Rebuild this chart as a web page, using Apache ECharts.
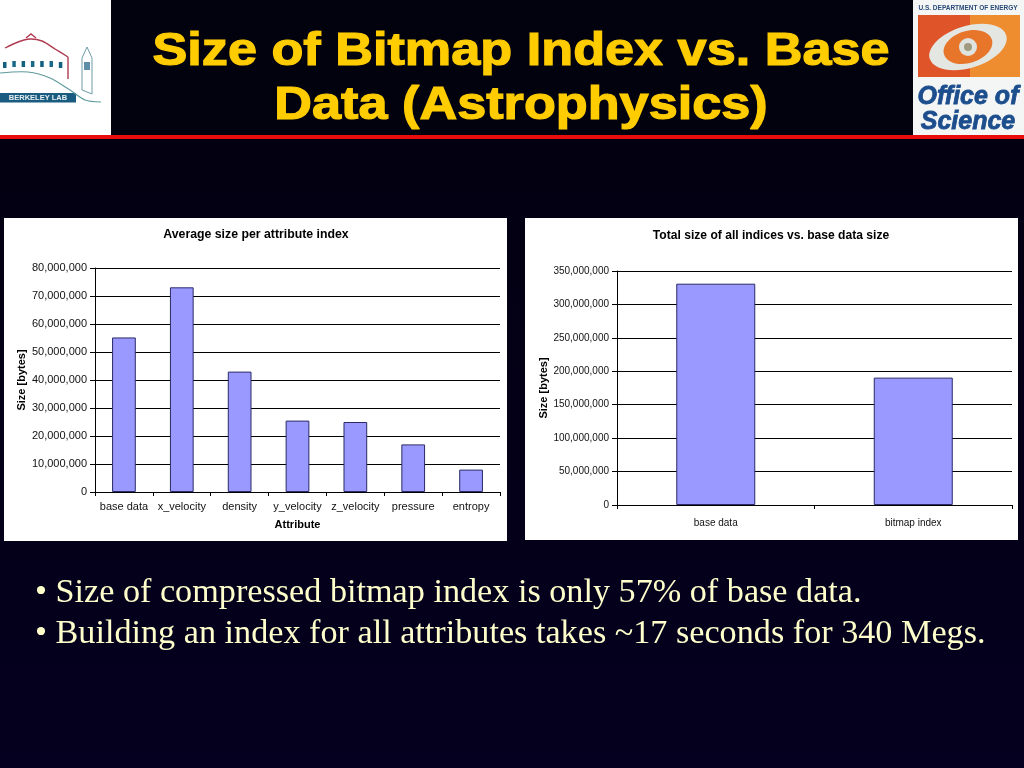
<!DOCTYPE html>
<html><head><meta charset="utf-8">
<style>html,body{margin:0;padding:0;background:#03001a}#c{width:1024px;height:768px}</style>
<script src="https://cdn.jsdelivr.net/npm/echarts@6/dist/echarts.min.js"></script>
</head><body><div id="c"></div>
<script>
const attributes = ['base data','x_velocity','density','y_velocity','z_velocity','pressure','entropy'];
const avgSizes = [55200000,73100000,43000000,25500000,25000000,17000000,8000000];
const totalCats = ['base data','bitmap index'];
const totalSizes = [331000000,190500000];
const titleLines = ['Size of Bitmap Index vs. Base','Data (Astrophysics)'];
const bullets = ['• Size of compressed bitmap index is only 57% of base data.','• Building an index for all attributes takes ~17 seconds for 340 Megs.'];

const sans='"Liberation Sans",Arial,sans-serif', serif='"Liberation Serif","Times New Roman",serif';
const fmt=v=>v.toLocaleString('en-US');
const chart=echarts.init(document.getElementById('c'),null,{renderer:'canvas',width:1024,height:768});
const txt=(x,y,s,size,fill,o={})=>({type:'text',z:o.z||5,x,y,rotation:o.rot||0,scaleX:o.sx||1,style:{text:s,fill,font:`${o.w||'normal'} ${size}px ${o.f||sans}`,align:o.a||'left',verticalAlign:'middle',stroke:o.st||null,lineWidth:o.lw||0}});
const rect=(x,y,w,h,fill,z=1)=>({type:'rect',z,silent:true,shape:{x,y,width:w,height:h},style:{fill}});
const line=(pts,stroke,lw,smooth)=>({type:'polyline',z:4,shape:{points:pts,smooth:smooth||0},style:{stroke,lineWidth:lw,fill:null}});
const windows=[0,1,2,3,4,5,6].map(i=>({type:'rect',z:4,shape:{x:3+i*9.3,y:61+(i==0||i==6?1:0),width:3.5,height:6},style:{fill:i%2?'#1c6a86':'#15607c'}}));

const graphic=[
 rect(0,0,111,136,'#ffffff'),
 rect(111,0,802,135,'#02020e'),
 rect(913,0,111,136,'#f4f6f6'),
 rect(0,135,1024,4,'#e80c0c',2),
 rect(4,218,503,323,'#ffffff'),
 rect(525,218,493,322,'#ffffff'),
 // Berkeley Lab logo
 line([[5,48],[18,42],[30,39],[42,41],[55,49],[68,57]],'#b03a50',1.4,0.3),
 line([[68,57],[68,79]],'#b03a50',1.4),
 line([[26,38],[31,34],[36,38]],'#b03a50',1.4),
 ...windows,
 line([[0,73],[28,72],[50,78],[70,90],[85,100],[101,102]],'#5f9a9c',1.2,0.3),
 line([[82,58],[87,47],[92,58],[92,94],[82,90],[82,58]],'#6d9aa8',1),
 rect(84,62,6,8,'#5f8ea8',4),
 rect(0,93,76,9.5,'#1a5c80',3),
 txt(38,98.3,'BERKELEY LAB',7.5,'#e8f0f4',{a:'center',w:'bold'}),
 // Office of Science logo
 rect(918,15,52,62,'#e0542a',2),
 rect(970,15,50,62,'#ee8c30',2),
 {type:'ellipse',z:3,shape:{cx:968,cy:47,rx:40,ry:21},style:{fill:'#e4e6e2'},rotation:0.3,originX:968,originY:47},
 {type:'ellipse',z:3,shape:{cx:968,cy:47,rx:25,ry:16},style:{fill:'#e8762a'},rotation:0.3,originX:968,originY:47},
 {type:'circle',z:4,shape:{cx:968,cy:47,r:9},style:{fill:'#dfe3e0'}},
 {type:'circle',z:4,shape:{cx:968,cy:47,r:4},style:{fill:'#a09a80'}},
 txt(968,8,'U.S. DEPARTMENT OF ENERGY',6.5,'#2a4a78',{a:'center',w:'bold'}),
 txt(968,97,'Office of',25,'#1c4d8c',{a:'center',w:'italic bold',st:'#1c4d8c',lw:0.8}),
 txt(968,122,'Science',25,'#1c4d8c',{a:'center',w:'italic bold',st:'#1c4d8c',lw:0.8}),
 // Slide title
 txt(521,52,titleLines[0],46.5,'#ffcc00',{a:'center',w:'bold',sx:1.123,st:'#ffcc00',lw:1.2}),
 txt(521,106,titleLines[1],46.5,'#ffcc00',{a:'center',w:'bold',sx:1.123,st:'#ffcc00',lw:1.2}),
 // Chart titles
 txt(256,235,'Average size per attribute index',12.3,'#000',{a:'center',w:'bold'}),
 txt(771,236,'Total size of all indices vs. base data size',12.1,'#000',{a:'center',w:'bold'}),
 // Bullets
 txt(35,593,bullets[0],34.2,'#ffffcc',{f:serif}),
 txt(35,634,bullets[1],34.2,'#ffffcc',{f:serif})
];
const cat=(i,data,size,margin)=>({type:'category',z:2,gridIndex:i,data,axisLine:{lineStyle:{color:'#000',width:1}},axisTick:{show:true,alignWithLabel:false,length:4,lineStyle:{color:'#000'}},axisLabel:{color:'#111',fontFamily:sans,fontSize:size,margin,interval:0},splitLine:{show:false}});
const val=(i,max,int,size)=>({type:'value',z:2,gridIndex:i,min:0,max,interval:int,axisLine:{show:true,lineStyle:{color:'#000',width:1}},axisTick:{show:true,length:5,lineStyle:{color:'#000'}},axisLabel:{color:'#111',fontFamily:sans,fontSize:size,margin:8,formatter:fmt},splitLine:{lineStyle:{color:'#000',width:1}},nameTextStyle:{color:'#000',fontFamily:sans,fontSize:11,fontWeight:'bold'}});
const bar=(i,data,w)=>({type:'bar',xAxisIndex:i,yAxisIndex:i,data,barWidth:w,z:3,itemStyle:{color:'#9999ff',borderColor:'#2a2a66',borderWidth:1},animation:false});
chart.setOption({
 animation:false,
 backgroundColor:new echarts.graphic.LinearGradient(0,0,0,1,[{offset:0,color:'#02000e'},{offset:1,color:'#05001f'}]),
 grid:[{left:95,top:268,width:405,height:224},{left:617,top:271,width:395,height:234}],
 xAxis:[Object.assign(cat(0,attributes,11,9),{name:'Attribute',nameLocation:'middle',nameGap:27,nameTextStyle:{color:'#000',fontFamily:sans,fontSize:11,fontWeight:'bold'}}),cat(1,totalCats,10,13)],
 yAxis:[Object.assign(val(0,80000000,10000000,11),{name:'Size [bytes]',nameLocation:'middle',nameGap:68}),Object.assign(val(1,350000000,50000000,10),{name:'Size [bytes]',nameLocation:'middle',nameGap:62})],
 series:[bar(0,avgSizes,'41%'),bar(1,totalSizes,'40%')],
 graphic:{elements:graphic}
});
</script></body></html>
